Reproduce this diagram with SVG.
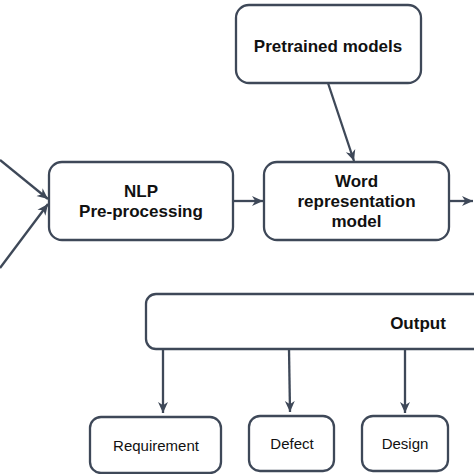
<svg xmlns="http://www.w3.org/2000/svg" width="474" height="474" viewBox="0 0 474 474">
<defs>
<style>
.box{fill:#fff;stroke:#3e4858;stroke-width:2.3}
.edge{fill:none;stroke:#3e4858;stroke-width:2.3}
.b{font-family:"Liberation Sans",Arial,sans-serif;font-weight:bold;font-size:17px;fill:#111;text-anchor:middle}
.r{font-family:"Liberation Sans",Arial,sans-serif;font-size:15px;fill:#111;text-anchor:middle}
</style>
<marker id="arr" viewBox="0 0 10 10" refX="10" refY="5" markerWidth="11" markerHeight="11" markerUnits="userSpaceOnUse" orient="auto">
<path d="M0,0.5 L10,5 L0,9.5 L3,5 z" fill="#3e4858"/>
</marker>
</defs>
<rect width="474" height="474" fill="#fff"/>
<g id="connectors">
<line class="edge" x1="0" y1="160" x2="48" y2="199" marker-end="url(#arr)"/>
<line class="edge" x1="0" y1="268" x2="48" y2="204" marker-end="url(#arr)"/>
<line class="edge" x1="233" y1="201" x2="263" y2="201" marker-end="url(#arr)"/>
<line class="edge" x1="449" y1="201" x2="473" y2="201" marker-end="url(#arr)"/>
<line class="edge" x1="328" y1="83" x2="354" y2="161" marker-end="url(#arr)"/>
<line class="edge" x1="163" y1="349" x2="163" y2="413" marker-end="url(#arr)"/>
<line class="edge" x1="289" y1="349" x2="290" y2="412" marker-end="url(#arr)"/>
<line class="edge" x1="405" y1="349" x2="405" y2="413" marker-end="url(#arr)"/>
</g>
<g id="pretrained">
<rect class="box" x="236" y="5" width="185" height="78" rx="13"/>
<text class="b" x="328" y="52">Pretrained models</text>
</g>
<g id="nlp">
<rect class="box" x="49" y="162" width="184" height="78" rx="13"/>
<text class="b" x="141" y="197">NLP</text>
<text class="b" x="141" y="217">Pre-processing</text>
</g>
<g id="word">
<rect class="box" x="264" y="162" width="185" height="78" rx="13"/>
<text class="b" x="356.5" y="187">Word</text>
<text class="b" x="356.5" y="207">representation</text>
<text class="b" x="356.5" y="227">model</text>
</g>
<g id="output">
<rect class="box" x="146" y="294" width="350" height="55" rx="10"/>
<text class="b" x="418" y="329">Output</text>
</g>
<g id="requirement">
<rect class="box" x="90" y="417" width="131" height="56" rx="11"/>
<text class="r" x="156" y="451">Requirement</text>
</g>
<g id="defect">
<rect class="box" x="249" y="416" width="85" height="55" rx="11"/>
<text class="r" x="292" y="449">Defect</text>
</g>
<g id="design">
<rect class="box" x="362" y="416" width="86" height="55" rx="11"/>
<text class="r" x="405" y="449">Design</text>
</g>
</svg>
